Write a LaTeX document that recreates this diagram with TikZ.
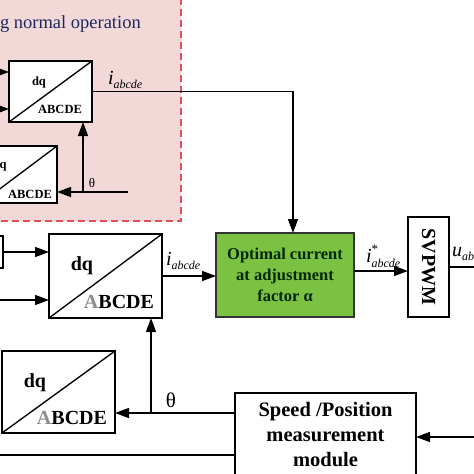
\documentclass[tikz,border=0pt]{standalone}
\usepackage{fontspec}
\setmainfont{Liberation Serif}
\usepackage{xcolor}
\usetikzlibrary{arrows.meta, positioning, calc}

\definecolor{pinkfill}{RGB}{243,216,216}
\definecolor{pinkline}{RGB}{226,80,92}
\definecolor{navytext}{RGB}{28,40,96}
\definecolor{optgreen}{RGB}{124,194,66}

\newcommand{\isub}[1]{\textit{i}\raisebox{-4pt}{\fontsize{12}{12}\selectfont\itshape #1}}
\newcommand{\istar}[1]{\textit{i}\rlap{\raisebox{9pt}{\fontsize{13}{13}\selectfont *}}\raisebox{-5pt}{\fontsize{12}{12}\selectfont\itshape #1}}

\begin{document}
\begin{tikzpicture}[
        x=1pt, y=-1pt,
        line width=1.35pt,
        every node/.style={inner sep=0pt, outer sep=0pt},
        blockbox/.style={rectangle, draw, fill=white},
        arr/.style={-{Triangle[length=14pt, width=10pt]}},
        lbl/.style={font=\fontsize{20}{24}\selectfont},
        bigtxt/.style={font=\fontsize{20}{24}\selectfont\bfseries},
        smalltxt/.style={font=\fontsize{12.5}{14}\selectfont\bfseries}
    ]
    \useasboundingbox (0,0) rectangle (474,474);

    % pink region
    \fill[pinkfill] (-10,-10) rectangle (181,221);
    \draw[pinkline, dash pattern=on 7pt off 4pt] (-10,221) -- (181,221) -- (181,-10);
    \node[anchor=base west, text=navytext, font=\fontsize{18.5}{22}\selectfont] (title) at (0,28) {g normal operation};

    % blocks
    \node[blockbox, minimum width=83, minimum height=61] (box1) at (50.5,91.5) {};
    \node[blockbox, minimum width=76, minimum height=57] (box2) at (19,174.5) {};
    \node[blockbox, minimum width=23, minimum height=32] (in0) at (-8.5,252) {};
    \node[blockbox, minimum width=113, minimum height=84] (box3) at (105.5,276) {};
    \node[blockbox, minimum width=113, minimum height=82] (box4) at (58.5,392) {};
    \node[rectangle, draw=black!80, fill=optgreen, minimum width=138, minimum height=84,
          align=center, text=black!85!green, font=\fontsize{16.5}{21}\selectfont\bfseries] (opt) at (285,275)
          {Optimal current\\at adjustment\\factor α};
    \node[blockbox, minimum width=41, minimum height=100] (svpwm) at (428.5,267) {};
    \node[rotate=-90, bigtxt] (svtxt) at (svpwm.center) {SVPWM};
    \node[blockbox, minimum width=181, minimum height=83, align=center,
          font=\fontsize{20.5}{25}\selectfont\bfseries] (speed) at (325.5,434.5)
          {Speed /Position\\measurement\\module};

    % diagonals and labels of the dq boxes
    \draw (box1.south west) -- (box1.north east);
    \draw (box2.south west) -- (box2.north east);
    \draw (box3.south west) -- (box3.north east);
    \draw (box4.south west) -- (box4.north east);
    \node[smalltxt] (dq1) at (39,82) {dq};
    \node[smalltxt] (ab1) at (60,109) {ABCDE};
    \node[smalltxt] (dq2) at (3,167) {q};
    \node[smalltxt] (ab2) at (30,194) {ABCDE};
    \node[bigtxt] (dq3) at (82,266) {dq};
    \node[bigtxt] (ab3) at (119,302) {\textcolor{black!45}{A}BCDE};
    \node[bigtxt] (dq4) at (35,383) {dq};
    \node[bigtxt] (ab4) at (72,418) {\textcolor{black!45}{A}BCDE};

    % free ends
    \coordinate (a1) at (-5,72);
    \coordinate (a2) at (-5,109);
    \coordinate (t1) at (128,192);
    \coordinate (j1) at (83,192);
    \coordinate (a3) at (-5,300);
    \coordinate (s1) at (235,413);
    \coordinate (j2) at (151,413);
    \coordinate (s2) at (235,455);
    \coordinate (a4) at (-5,455);
    \coordinate (a5) at (480,437);
    \coordinate (u1) at (480,269);

    % connectors
    \draw[arr] (a1) -- (a1 -| box1.west);
    \draw[arr] (a2) -- (a2 -| box1.west);
    \draw[arr] (box1.east) -| (opt.north -| 293,0);
    \draw[arr] (t1) -- (t1 -| box2.east);
    \draw[arr] (j1) -- (j1 |- box1.south);
    \draw[arr] (in0.east) -- (in0.east -| box3.west);
    \draw[arr] (a3) -- (a3 -| box3.west);
    \draw[arr] (box3.east) -- (box3.east -| opt.west);
    \draw[arr] ([yshift=4pt]opt.east) -- ([yshift=4pt]opt.east -| svpwm.west);
    \draw (svpwm.east) -- (svpwm.east -| u1);
    \draw[arr] (s1) -- (s1 -| box4.east);
    \draw[arr] (j2) -- (j2 |- box3.south);
    \draw (s2) -- (a4);
    \draw[arr] (a5) -- (a5 -| speed.east);

    % signal labels
    \node[lbl, anchor=base west] (l1) at (108,84) {\isub{abcde}};
    \node[font=\fontsize{13}{14}\selectfont] (th1) at (92,183) {θ};
    \node[lbl, anchor=base west] (l3) at (166,265) {\isub{abcde}};
    \node[lbl, anchor=base west] (l4) at (366,262) {\istar{abcde}};
    \node[lbl, anchor=base west] (l5) at (452,256) {\textit{u}\raisebox{-4pt}{\fontsize{12}{12}\selectfont\itshape ab}};
    \node[font=\fontsize{21}{24}\selectfont] (th2) at (171,400) {θ};
\end{tikzpicture}
\end{document}
